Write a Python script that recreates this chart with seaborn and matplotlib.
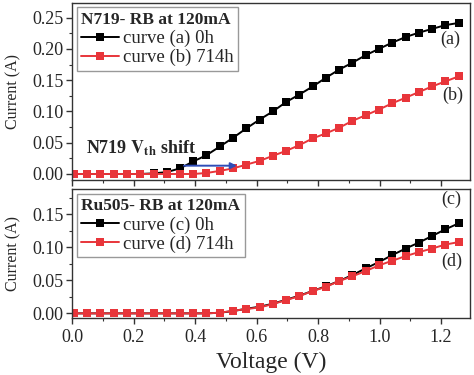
import pandas as pd
import matplotlib
matplotlib.use("Agg")
import matplotlib.pyplot as plt
from matplotlib.ticker import MultipleLocator
import seaborn as sns

# ================= data =================
voltage = [0.006, 0.049, 0.092, 0.135, 0.179, 0.222, 0.265, 0.308, 0.351, 0.394,
           0.437, 0.481, 0.524, 0.567, 0.610, 0.653, 0.696, 0.739, 0.783, 0.826,
           0.869, 0.912, 0.955, 0.998, 1.041, 1.085, 1.128, 1.171, 1.214, 1.257]

# N719 panel
curve_a = [0, 0, 0, 0, 0, 0, 0.001, 0.003, 0.009, 0.020,
           0.030, 0.044, 0.058, 0.073, 0.087, 0.100, 0.115, 0.127, 0.140, 0.154,
           0.167, 0.178, 0.190, 0.200, 0.210, 0.219, 0.226, 0.232, 0.238, 0.2415]
curve_b = [0, 0, 0, 0, 0, 0, 0, 0, 0, 0,
           0.0016, 0.005, 0.009, 0.015, 0.021, 0.029, 0.037, 0.046, 0.057, 0.065,
           0.074, 0.085, 0.094, 0.103, 0.113, 0.122, 0.131, 0.140, 0.148, 0.156]

# Ru505 panel
curve_c = [0, 0, 0, 0, 0, 0, 0, 0, 0, 0,
           0, 0.001, 0.0035, 0.007, 0.010, 0.0146, 0.0206, 0.0267, 0.034, 0.041,
           0.049, 0.058, 0.068, 0.0775, 0.088, 0.098, 0.107, 0.117, 0.127, 0.136]
curve_d = [0, 0, 0, 0, 0, 0, 0, 0, 0, 0,
           0, 0.001, 0.004, 0.0065, 0.009, 0.014, 0.020, 0.026, 0.034, 0.040,
           0.049, 0.056, 0.064, 0.0725, 0.0795, 0.0866, 0.0926, 0.098, 0.104, 0.1077]

labels_top = ["curve (a) 0h", "curve (b) 714h"]
labels_bot = ["curve (c) 0h", "curve (d) 714h"]
title_top = "N719- RB at 120mA"
title_bot = "Ru505- RB at 120mA"

BLACK = "#000000"
RED = "#e8353a"
BLUE = "#2f4db8"

sns.set_style("ticks")
plt.rcParams["font.family"] = ["Liberation Serif", "DejaVu Serif"]
plt.rcParams["mathtext.fontset"] = "stix"
plt.rcParams["xtick.direction"] = "out"
plt.rcParams["ytick.direction"] = "out"

fig = plt.figure(figsize=(4.74, 3.75), dpi=100)
ax1 = fig.add_axes([0.152, 0.520, 0.840, 0.473])
ax2 = fig.add_axes([0.152, 0.152, 0.840, 0.344])


def draw_panel(ax, y0, y1, labels, title):
    df = pd.DataFrame({"V": voltage, "y0": y0, "y1": y1})
    sns.lineplot(data=df, x="V", y="y0", ax=ax, color=BLACK, marker="s",
                 markersize=5.5, markeredgewidth=0, linewidth=1.4, label=labels[0])
    sns.lineplot(data=df, x="V", y="y1", ax=ax, color=RED, marker="s",
                 markersize=5.5, markeredgewidth=0, linewidth=1.4, label=labels[1])
    ax.set_xlim(0, 1.295)
    ax.xaxis.set_major_locator(MultipleLocator(0.2))
    ax.xaxis.set_minor_locator(MultipleLocator(0.1))
    ax.yaxis.set_major_locator(MultipleLocator(0.05))
    ax.yaxis.set_minor_locator(MultipleLocator(0.025))
    ax.tick_params(which="major", length=4, width=1, labelsize=13, color="#333333", pad=2)
    ax.tick_params(axis="x", which="major", pad=4)
    ax.tick_params(which="minor", length=2.5, width=0.8, color="#333333")
    for sp in ax.spines.values():
        sp.set_linewidth(1)
        sp.set_color("#333333")
    ax.set_ylabel("Current (A)", fontsize=11.5, labelpad=8)
    leg = ax.legend(title=title, loc="upper left", frameon=True, fancybox=False,
                    edgecolor="#999999", framealpha=1, fontsize=13.5,
                    handlelength=2.0, handletextpad=0.2, borderpad=0.25,
                    labelspacing=0.1, borderaxespad=0.25, alignment="left",
                    title_fontproperties={"weight": "bold", "size": 12.5})
    leg.get_frame().set_linewidth(1)


draw_panel(ax1, curve_a, curve_b, labels_top, title_top)
ax1.set_ylim(-0.0096, 0.274)
ax1.tick_params(axis="x", labelbottom=False)
ax1.set_xlabel("")
ax1.text(1.23, 0.216, "(a)", fontsize=13, ha="center", va="center")
ax1.text(1.237, 0.126, "(b)", fontsize=13, ha="center", va="center")
ax1.text(0.045, 0.042, r"N719 $\mathbf{V_{th}}$ shift", fontsize=13,
         fontweight="bold", ha="left", va="center")
ax1.annotate("", xy=(0.545, 0.0133), xytext=(0.355, 0.0133),
             arrowprops=dict(arrowstyle="-|>", color=BLUE, lw=1.4,
                             mutation_scale=9))

draw_panel(ax2, curve_c, curve_d, labels_bot, title_bot)
ax2.set_ylim(-0.007, 0.188)
ax2.set_xlabel("Voltage (V)", fontsize=17, labelpad=4)
ax2.text(1.232, 0.173, "(c)", fontsize=13, ha="center", va="center")
ax2.text(1.235, 0.079, "(d)", fontsize=13, ha="center", va="center")

fig.align_ylabels([ax1, ax2])
fig.savefig("out.png", dpi=100)
